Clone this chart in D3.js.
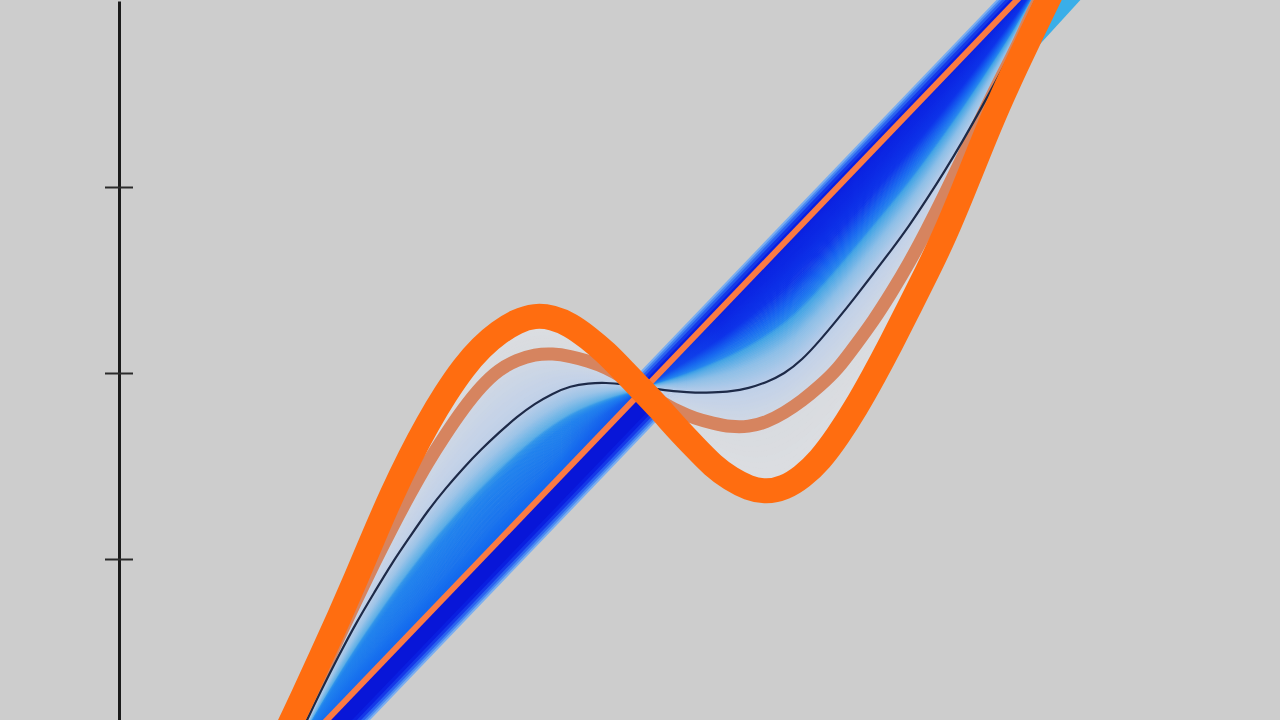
<!DOCTYPE html>
<html><head><meta charset="utf-8">
<script src="https://cdn.jsdelivr.net/npm/d3@7/dist/d3.min.js"></script>
<style>html,body{margin:0;padding:0;background:#cdcdcd;overflow:hidden}</style>
</head><body>
<svg id="c" width="1280" height="720"></svg>
<script>
// ---- data ----
const xs = [-0.2,-0.1,0.0,0.1,0.2,0.3,0.4,0.5,0.6,0.7,0.8,0.9,1.0,1.1,1.2,1.3,1.4,1.5,1.6,1.7,1.8,1.9,2.0,2.1,2.2,2.3,2.4,2.5,2.6,2.7,2.8,2.9,3.0,3.1,3.2,3.3,3.4,3.5,3.6,3.7,3.8,3.9,4.0,4.1,4.2,4.3];
const straightLine = [[-0.3,-0.3],[4.4,4.4]];
const orangeThick = [-0.15,0.06,0.26,0.47,0.68,0.90,1.13,1.35,1.55,1.73,1.89,2.03,2.14,2.22,2.28,2.31,2.30,2.26,2.19,2.11,2.01,1.91,1.81,1.70,1.60,1.50,1.43,1.38,1.36,1.38,1.44,1.53,1.66,1.81,1.98,2.16,2.35,2.54,2.74,2.97,3.21,3.44,3.65,3.85,4.05,4.24];
const brownCurve = [-0.30,-0.07,0.16,0.37,0.58,0.78,0.98,1.17,1.35,1.52,1.67,1.81,1.93,2.02,2.07,2.10,2.105,2.09,2.065,2.03,1.975,1.91,1.85,1.795,1.755,1.73,1.71,1.71,1.735,1.785,1.85,1.93,2.02,2.15,2.28,2.43,2.59,2.77,2.96,3.16,3.36,3.56,3.74,3.96,4.13,4.26];
const navyCurve = [-0.32,-0.12,0.09,0.29,0.48,0.66,0.82,0.98,1.12,1.26,1.38,1.49,1.59,1.68,1.765,1.835,1.89,1.93,1.945,1.948,1.94,1.925,1.912,1.90,1.893,1.895,1.90,1.918,1.95,1.995,2.07,2.175,2.29,2.41,2.535,2.66,2.79,2.935,3.085,3.245,3.415,3.59,3.77,3.99,4.17,4.30];
const cyanWedge = [[4.07,3.70],[4.215,4.02],[4.375,4.02]];
const yTicks = [1,2,3];
// fan colour stops (fraction of the way from the straight line to the navy curve)
const fanPosLeft  = [0, 0.55, 0.64, 0.67, 0.85, 1];
const fanColLeft  = ['#1268ee','#1f82ee','#2f94ea','#5aaee7','#9cc4e8','#b9cde9'];
const fanPosRight = [0, 0.35, 0.5, 0.6, 0.63, 0.8, 1];
const fanColRight = ['#0a1fe0','#0d33e9','#1766f0','#2585ee','#40a3e6','#8dbfe8','#b9cde9'];

// ---- drawing ----
const W = 1280, H = 720;
const x = d3.scaleLinear().domain([0,4]).range([303,1016]);
const y = d3.scaleLinear().domain([0,4]).range([745,1]);
const svg = d3.select('#c');
const defs = svg.append('defs');
svg.append('rect').attr('width',W).attr('height',H).attr('fill','#cdcdcd');

const lineAt = d3.scaleLinear().domain(straightLine.map(d=>d[0])).range(straightLine.map(d=>d[1]));
const base = xs.map(v=>lineAt(v));
const crv = d3.curveBasis;
const lineGen = d3.line().x(d=>x(d[0])).y(d=>y(d[1]));
const seriesLine = d3.line().x((d,i)=>x(xs[i])).y(d=>y(d)).curve(crv);

// dark blue band under the straight line, shifted towards the lower-right side
const shade = svg.append('g').attr('transform','translate(6,5.5)');
[[46,'#79adf0'],[42,'#4a8af2'],[38,'#2a62f0'],[33,'#1538e8'],[27,'#0a1fe0'],[20,'#0816d8']].forEach(([w,c])=>{
  shade.append('path').datum(straightLine).attr('d',lineGen).attr('fill','none').attr('stroke',c).attr('stroke-width',w);
});

let gid = 0;
function band(a,b,n,cLeft,cRight){
  const area = d3.area().x(d=>x(d.x)).y0(d=>y(d.y0)).y1(d=>y(d.y1)).curve(crv);
  for(let k=0;k<n;k++){
    const t0=k/n, t1=(k+1)/n, tm=(t0+t1)/2;
    const id = 'g'+(gid++);
    const g = defs.append('linearGradient').attr('id',id).attr('gradientUnits','userSpaceOnUse')
      .attr('x1',x(1.45)).attr('x2',x(2.35)).attr('y1',0).attr('y2',0);
    g.append('stop').attr('offset',0).attr('stop-color',cLeft(tm));
    g.append('stop').attr('offset',1).attr('stop-color',cRight(tm));
    const pts = xs.map((xv,i)=>({x:xv, y0:a[i]+(b[i]-a[i])*t0, y1:a[i]+(b[i]-a[i])*t1}));
    svg.append('path').datum(pts).attr('d',area).attr('fill','url(#'+id+')').attr('stroke','url(#'+id+')').attr('stroke-width',0.8);
  }
}
const rampL = d3.scaleLinear().domain(fanPosLeft).range(fanColLeft).interpolate(d3.interpolateRgb);
const rampR = d3.scaleLinear().domain(fanPosRight).range(fanColRight).interpolate(d3.interpolateRgb);
const rampB = d3.scaleLinear().domain([0,1]).range(['#bfd0e9','#d2d9e4']);
const rampC = d3.scaleLinear().domain([0,1]).range(['#d8dbe0','#dcdee1']);
band(base, navyCurve, 64, rampL, rampR);
band(navyCurve, brownCurve, 12, rampB, rampB);
band(brownCurve, orangeThick, 12, rampC, rampC);

// cyan wedge at top right
svg.append('path').datum(cyanWedge).attr('d',d3.line().x(d=>x(d[0])).y(d=>y(d[1])).curve(d3.curveLinearClosed))
  .attr('fill','#3aaee8');

// curves
svg.append('path').datum(brownCurve).attr('d',seriesLine).attr('fill','none').attr('stroke','#d6845f').attr('stroke-width',13);
svg.append('path').datum(navyCurve).attr('d',seriesLine).attr('fill','none').attr('stroke','#1d2a48').attr('stroke-width',2.2);
svg.append('path').datum(straightLine).attr('d',lineGen).attr('fill','none').attr('stroke','#fb7b43').attr('stroke-width',6);
svg.append('path').datum(orangeThick).attr('d',seriesLine).attr('fill','none').attr('stroke','#ff6d10').attr('stroke-width',25);

// axis
const axL = svg.append('g').attr('transform','translate(119,0)')
  .call(d3.axisLeft(y).tickValues(yTicks).tickSizeInner(14).tickSizeOuter(0).tickFormat(''));
const axR = svg.append('g').attr('transform','translate(119,0)')
  .call(d3.axisRight(y).tickValues(yTicks).tickSizeInner(14).tickSizeOuter(0).tickFormat(''));
axR.select('.domain').remove();
axL.select('.domain').attr('stroke','#1a1a1a').attr('stroke-width',3);
svg.selectAll('.tick line').attr('stroke','#2a2a2a').attr('stroke-width',2);
</script>
</body></html>
